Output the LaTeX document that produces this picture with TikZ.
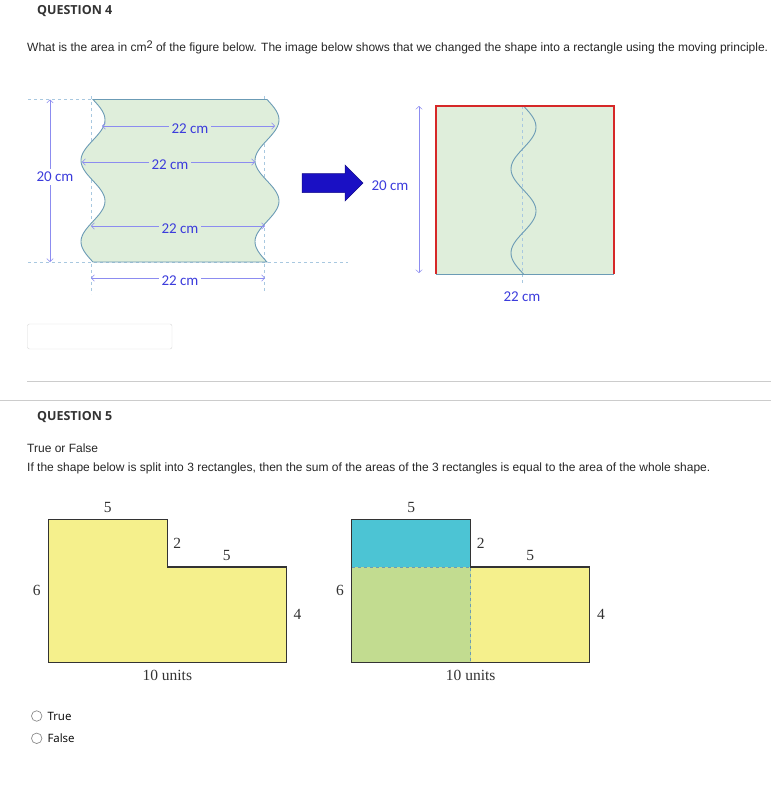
\documentclass[tikz,border=0pt]{standalone}
\usepackage{fontspec}
\setmainfont{Liberation Sans}
\newfontfamily\headfont{Open Sans}
\newfontfamily\dimfont{Carlito}
\newfontfamily\figfont{Liberation Serif}
\usetikzlibrary{arrows,arrows.meta,positioning,calc}

\definecolor{sheetgreen}{RGB}{223,238,219}
\definecolor{waveblue}{RGB}{107,155,181}
\definecolor{dimline}{RGB}{140,140,240}
\definecolor{dimtext}{RGB}{60,60,220}
\definecolor{guide}{RGB}{168,200,224}
\definecolor{bigarrow}{RGB}{26,16,196}
\definecolor{framered}{RGB}{214,40,40}
\definecolor{boxyellow}{RGB}{245,240,140}
\definecolor{boxcyan}{RGB}{76,196,212}
\definecolor{boxgreen}{RGB}{194,220,144}
\definecolor{rulegray}{RGB}{204,204,204}
\definecolor{headgray}{RGB}{51,51,51}

\begin{document}
\begin{tikzpicture}[x=1pt,y=-1pt,>={Straight Barb[length=3pt,width=6.5pt]},
    dimarrow/.style={draw=dimline,line width=0.6pt,<->},
    dimlabel/.style={text=dimtext,font=\dimfont\fontsize{15}{16}\selectfont,inner sep=3pt},
    guideline/.style={draw=guide,dashed,line width=0.5pt},
    figline/.style={draw=headgray,line width=1.3pt},
    figlabel/.style={text=headgray,font=\figfont\fontsize{15.5}{17}\selectfont,inner sep=0pt},
    heading/.style={anchor=base west,inner sep=0pt,text=headgray,font=\headfont\bfseries\fontsize{12.5}{14}\selectfont},
    bodytext/.style={anchor=base west,inner sep=0pt,text=black!85},
    radio/.style={circle,draw=black!45,line width=0.7pt,minimum size=10.5pt,inner sep=0pt}]
\pgfmathsetmacro{\amp}{12}
\pgfmathsetmacro{\sheeth}{162.5}
\pgfmathsetmacro{\kw}{720/\sheeth}
\pgfmathsetmacro{\kr}{720/168}

\useasboundingbox (0,0) rectangle (771,785);

% Question 4 text
\node[heading] (q4) at (37,14) {QUESTION 4};
\node[bodytext,font=\fontsize{12}{14}\selectfont] (q4text) at (27,51.5)
  {What is the area in cm\raisebox{0.45ex}{\fontsize{11}{12}\selectfont 2} of the figure below. The image below shows that we changed the shape into a rectangle using the moving principle.};

% Wavy sheet
\draw[guideline] (28,99.5) -- (92,99.5);
\draw[guideline] (28,262) -- (348,262);
\draw[guideline] (91,96) -- (91,294);
\draw[guideline] (264,96) -- (264,292);
\filldraw[fill=sheetgreen,draw=waveblue,line width=0.9pt]
  plot[domain=0:\sheeth,samples=80] ({93+\amp*sin(\kw*\x)},{99.5+\x})
  -- plot[domain=\sheeth:0,samples=80] ({267+\amp*sin(\kw*\x)},{99.5+\x}) -- cycle;

\coordinate (vA) at (50,99.5);
\coordinate (vB) at (50,262);
\coordinate (h1a) at (102,126);
\coordinate (h1b) at (275,126);
\coordinate (h2a) at (82,162);
\coordinate (h2b) at (255,162);
\coordinate (h3a) at (91,226);
\coordinate (h3b) at (265,226);
\coordinate (h4a) at (91,278);
\coordinate (h4b) at (265,278);

\draw[dimarrow] (vA) -- (vB);
\draw[dimarrow] (h1a) -- (h1b);
\draw[dimarrow] (h2a) -- (h2b);
\draw[dimarrow] (h3a) -- (h3b);
\draw[dimarrow] (h4a) -- (h4b);
\node[dimlabel,fill=white] (hgt) at (55,177) {20 cm};
\node[dimlabel,fill=sheetgreen] (w1) at (190,129) {22 cm};
\node[dimlabel,fill=sheetgreen] (w2) at (170,165) {22 cm};
\node[dimlabel,fill=sheetgreen] (w3) at (180,229) {22 cm};
\node[dimlabel,fill=white] (w4) at (180,281) {22 cm};

% Block arrow
\filldraw[fill=bigarrow,draw=bigarrow!70!black,line width=0.5pt] (302,173.5) -- (345,173.5) -- (345,165) -- (363,183) -- (345,201)
  -- (345,192.5) -- (302,192.5) -- cycle;

% Rectangle
\coordinate (R1) at (436,274);
\coordinate (R2) at (436,106);
\coordinate (R3) at (614,106);
\coordinate (R4) at (614,274);
\fill[sheetgreen] (R1) rectangle (R3);
\draw[guideline] (522,106) -- (522,283);
\draw[waveblue,line width=0.9pt] plot[domain=0:168,samples=80] ({523.5+12.5*sin(\kr*\x)},{106+\x});
\draw[waveblue,line width=0.7pt] (R1) -- (R4);
\draw[framered,line width=1.8pt] (R1) -- (R2) -- (R3) -- (R4);
\coordinate (vC) at (419,106);
\coordinate (vD) at (419,273);
\draw[dimarrow,line width=0.5pt] (vC) -- (vD);
\node[dimlabel] (hgt2) at (390,186) {20 cm};
\node[dimlabel] (wd2) at (522,297) {22 cm};

% Answer box and rules
\draw[rulegray!80,rounded corners=2pt] (27.5,324) rectangle (172,349);
\draw[rulegray,line width=0.8pt] (27,381) -- (771,381);
\draw[rulegray,line width=0.8pt] (0,400) -- (771,400);

% Question 5 text
\node[heading] (q5) at (37,420) {QUESTION 5};
\node[bodytext,font=\fontsize{12}{14}\selectfont] (q5a) at (27,452.5) {True or False};
\node[bodytext,font=\fontsize{12}{14}\selectfont] (q5b) at (27,471)
  {If the shape below is split into 3 rectangles, then the sum of the areas of the 3 rectangles is equal to the area of the whole shape.};

% L-shapes
\begin{scope}[shift={(48.3,662.3)},x=23.8pt,y=23.8pt]
\fill[boxyellow] (0,0) -- (10,0) -- (10,4) -- (5,4) -- (5,6) -- (0,6) -- cycle;
\end{scope}
\begin{scope}[shift={(351.7,662.3)},x=23.8pt,y=23.8pt]
\fill[boxcyan] (0,4) rectangle (5,6);
\fill[boxgreen] (0,0) rectangle (5,4);
\fill[boxyellow] (5,0) rectangle (10,4);
\draw[waveblue,dashed,line width=0.7pt] (0,4) -- (5,4) -- (5,0);
\end{scope}

\foreach \ox/\k in {48.3/a,351.7/b}{
\begin{scope}[shift={(\ox,662.3)},x=23.8pt,y=23.8pt]
\draw[figline] (0,0) -- (10,0) -- (10,4) -- (5,4) -- (5,6) -- (0,6) -- cycle;
\node[figlabel] (top\k) at (2.5,6.5) {5};
\node[figlabel] (step\k) at (5.42,5) {2};
\node[figlabel] (mid\k) at (7.5,4.5) {5};
\node[figlabel] (left\k) at (-0.49,3) {6};
\node[figlabel] (right\k) at (10.47,2) {4};
\node[figlabel] (base\k) at (5,-0.57) {10 units};
\end{scope}
}

% Answers
\node[radio] (rtrue) at (36.7,716) {};
\node[radio] (rfalse) at (36.7,738.3) {};
\node[right=5pt of rtrue,inner sep=0pt,font=\headfont\fontsize{11.5}{13}\selectfont] (ttrue) {True};
\node[right=5pt of rfalse,inner sep=0pt,font=\headfont\fontsize{11.5}{13}\selectfont] (tfalse) {False};

\end{tikzpicture}
\end{document}
